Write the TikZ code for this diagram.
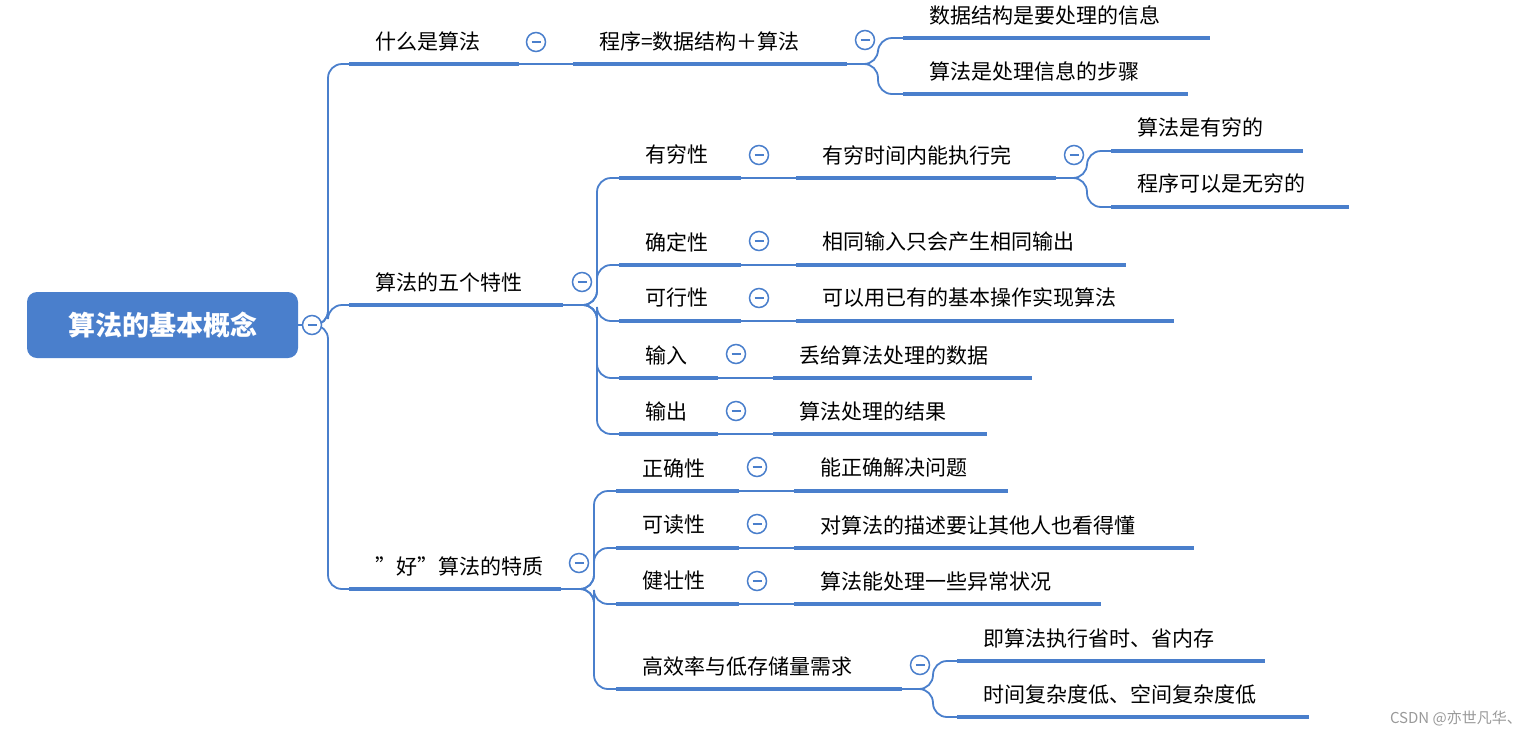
\documentclass[tikz,border=0pt]{standalone}
\usepackage{fontspec}
\setmainfont{Noto Sans CJK SC}
\definecolor{mblue}{HTML}{4A7FCC}
\tikzset{
 uline/.style={mblue,line width=4pt},
 conn/.style={mblue,line width=1.8pt,rounded corners=14pt},
 txt/.style={anchor=west,inner sep=0pt,font=\fontsize{21}{24}\selectfont,text=black},
 circ/.style={circle,draw=mblue,line width=1.5pt,fill=white,minimum size=19pt,inner sep=0pt,
   path picture={\draw[mblue,line width=1.5pt] ([xshift=-4.5pt]path picture bounding box.center)--([xshift=4.5pt]path picture bounding box.center);}}
}
\newcommand\mmitem[5]{\coordinate (#1L) at (#2,#4); \coordinate (#1R) at (#3,#4);
 \draw[uline] (#1L)--(#1R); \node[txt] (#1) at (#2+26,#4-23) {#5};}
\newcommand\mmcirc[3]{\node[circ] (#1) at (#2,#3) {};}
\begin{document}
\begin{tikzpicture}[x=1pt,y=-1pt]
\useasboundingbox (0,0) rectangle (1533,737);
% root
\node[fill=mblue,rounded corners=10pt,minimum width=271pt,minimum height=66pt,text=white,font=\fontsize{27}{30}\selectfont\bfseries] (root) at (162.5,325) {算法的基本概念};
\draw[conn] (root.east) -- (303,325);
% level 1
\mmitem{a}{349}{519}{64}{什么是算法}
\mmitem{b}{349}{563}{305}{算法的五个特性}
\mmitem{c}{349}{561}{589}{"好"算法的特质}
\foreach \n in {a,b,c}{\draw[conn] (321,325) -- (328,325) |- (\n L);}
\mmcirc{rc}{312}{325}
% a branch
\mmitem{a1}{573}{847}{64}{程序=数据结构＋算法}
\draw[conn] (aR) -- (a1L);
\mmcirc{ac}{536}{42}
\mmitem{a11}{903}{1210}{38}{数据结构是要处理的信息}
\mmitem{a12}{903}{1188}{94}{算法是处理信息的步骤}
\foreach \n in {a11,a12}{\draw[conn] (a1R) -- (878,64) |- (\n L);}
\mmcirc{a1c}{865}{40}
% b branch
\mmitem{b1}{619}{741}{178}{有穷性}
\mmitem{b2}{619}{741}{265}{确定性}
\mmitem{b3}{619}{741}{321}{可行性}
\mmitem{b4}{619}{718}{378}{输入}
\mmitem{b5}{619}{718}{434}{输出}
\foreach \n in {b1,b2,b3,b4,b5}{\draw[conn] (bR) -- (597,305) |- (\n L);}
\mmcirc{bc}{582}{282}
\mmitem{b1a}{796}{1056}{178}{有穷时间内能执行完}
\mmitem{b2a}{796}{1126}{265}{相同输入只会产生相同输出}
\mmitem{b3a}{796}{1174}{321}{可以用已有的基本操作实现算法}
\mmitem{b4a}{773}{1032}{378}{丢给算法处理的数据}
\mmitem{b5a}{773}{987}{434}{算法处理的结果}
\foreach \n in {b1,b2,b3,b4,b5}{\draw[conn] (\n R) -- (\n aL);}
\mmcirc{b1c}{759}{155}
\mmcirc{b2c}{759}{241}
\mmcirc{b3c}{759}{298}
\mmcirc{b4c}{736}{354}
\mmcirc{b5c}{736}{411}
\mmitem{b1a1}{1111}{1303}{151}{算法是有穷的}
\mmitem{b1a2}{1111}{1349}{207}{程序可以是无穷的}
\foreach \n in {b1a1,b1a2}{\draw[conn] (b1aR) -- (1087,178) |- (\n L);}
\mmcirc{b1ac}{1074}{155}
% c branch
\mmitem{c1}{616}{739}{491}{正确性}
\mmitem{c2}{616}{739}{548}{可读性}
\mmitem{c3}{616}{739}{604}{健壮性}
\mmitem{c4}{616}{902}{689}{高效率与低存储量需求}
\foreach \n in {c1,c2,c3,c4}{\draw[conn] (cR) -- (594,589) |- (\n L);}
\mmcirc{cc}{579}{563}
\mmitem{c1a}{794}{1008}{491}{能正确解决问题}
\mmitem{c2a}{794}{1194}{548}{对算法的描述要让其他人也看得懂}
\mmitem{c3a}{794}{1101}{604}{算法能处理一些异常状况}
\foreach \n in {c1,c2,c3}{\draw[conn] (\n R) -- (\n aL);}
\mmcirc{c1c}{757}{467}
\mmcirc{c2c}{757}{524}
\mmcirc{c3c}{757}{581}
\mmitem{c4a}{957}{1265}{661}{即算法执行省时、省内存}
\mmitem{c4b}{957}{1309}{717}{时间复杂度低、空间复杂度低}
\foreach \n in {c4a,c4b}{\draw[conn] (c4R) -- (933,689) |- (\n L);}
\mmcirc{c4c}{920}{665}
% watermark
\node[anchor=east,inner sep=0pt,text=gray!80,font=\fontsize{15}{18}\selectfont] (wm) at (1522,718) {CSDN @亦世凡华、};
\end{tikzpicture}
\end{document}
